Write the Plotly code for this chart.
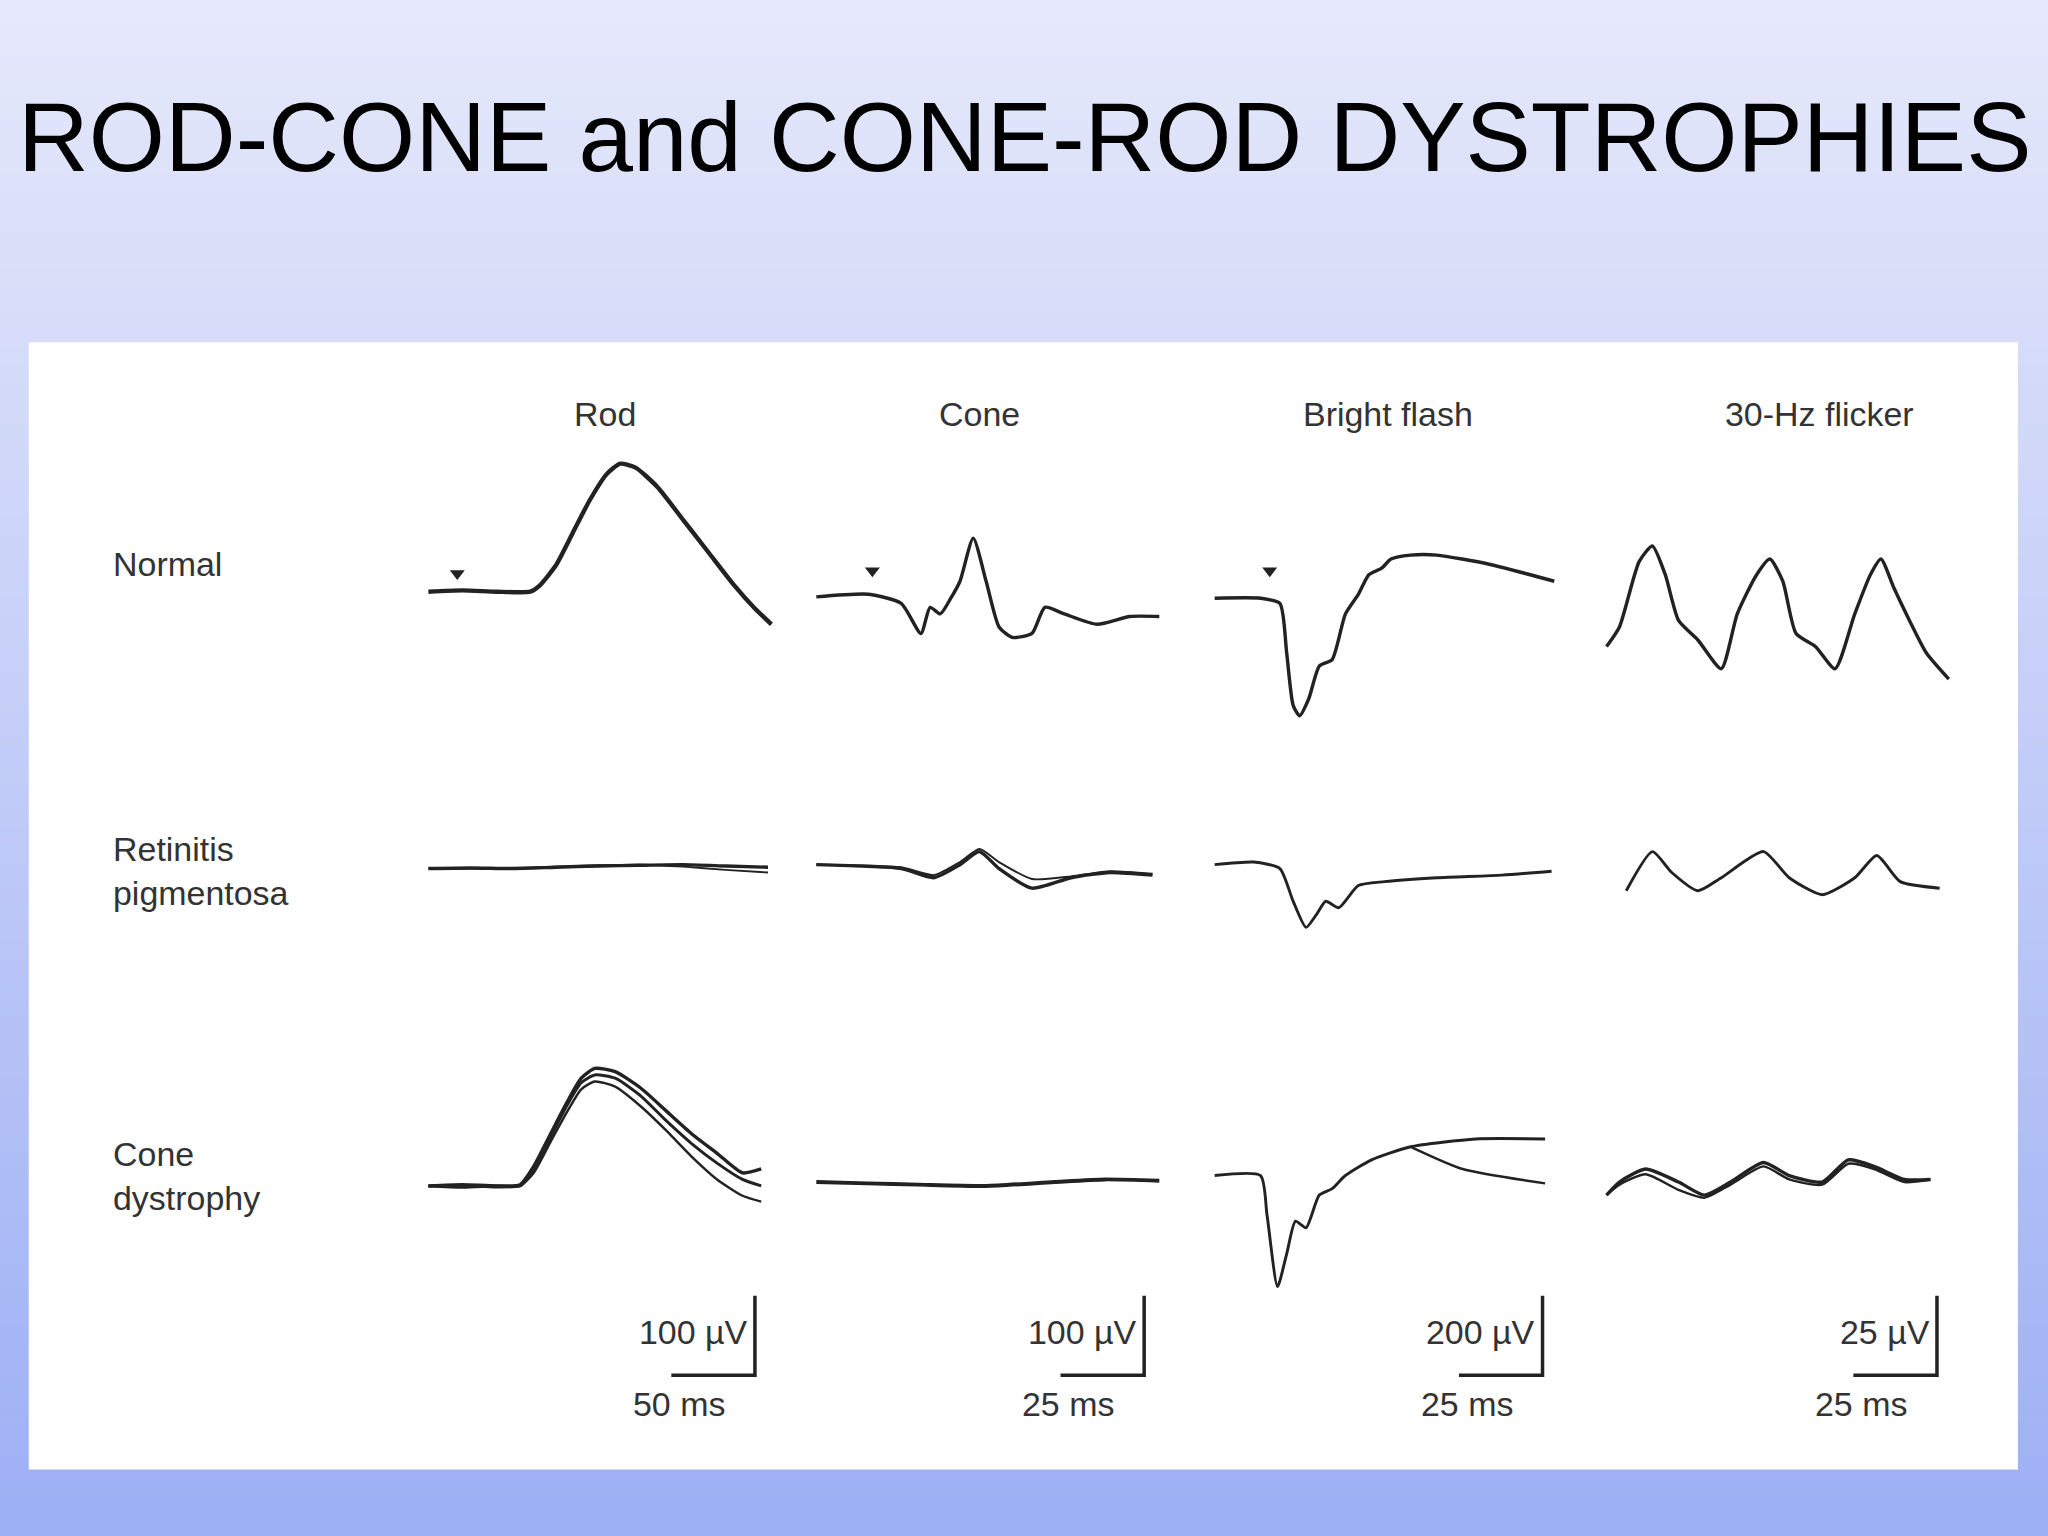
import plotly.graph_objects as go

W, H = 2048, 1536
S = W / 1568.0  # reference was read at 1568x1176

# ---- data (time in ms, amplitude in uV) ----
columns = ["Rod", "Cone", "Bright flash", "30-Hz flicker"]
rows = ["Normal", "Retinitis<br>pigmentosa", "Cone<br>dystrophy"]

rod_normal_t = [0, 20, 40, 60, 65, 75, 85, 95, 105, 113, 122, 135, 150, 165, 180, 192, 202]
rod_normal_v = [0, 2, 0, 0, 8, 40, 90, 140, 180, 196, 190, 160, 110, 60, 10, -25, -50]
rod_rp_t = [0, 25, 50, 75, 100, 125, 150, 175, 200]
rod_rp_v = [0, 1, 0, 2, 4, 5, 6, 4, 2]
rod_rp2_v = [0, 0, 1, 3, 5, 6, 3, -2, -6]
rod_cd_t = [0, 20, 40, 54, 62, 72, 82, 90, 98, 110, 125, 140, 155, 170, 185, 196]
rod_cd1_v = [0, 2, 0, 2, 30, 80, 130, 165, 180, 175, 150, 115, 80, 50, 20, 26]
rod_cd2_v = [0, -2, 0, 0, 25, 75, 125, 158, 170, 165, 138, 100, 65, 35, 10, 0]
rod_cd3_v = [0, 0, -2, 0, 20, 68, 115, 148, 160, 152, 122, 85, 45, 10, -15, -24]

cone_normal_t = [0, 15.4, 25, 30.8, 33.5, 36.5, 39.6, 42.3, 46.2, 50, 53.8, 57.7, 63.5, 67.3, 73, 82.7, 92.3, 101]
cone_normal_v = [-4, 0, -14, -60, -20, -30, -6, 20, 86, 20, -50, -66, -60, -20, -30, -46, -34, -34]
cone_rp_t = [0, 25, 34.6, 42.3, 48, 53.8, 63.5, 75, 86.5, 99]
cone_rp_v = [0, -6, -20, 0, 20, -6, -36, -20, -12, -16]
cone_rp2_v = [0, -4, -16, 4, 24, 4, -22, -18, -10, -14]
cone_cd_t = [0, 15, 30, 50, 70, 85, 101]
cone_cd_v = [0, -2, -4, -6, 0, 4, 2]

bright_normal_t = [0, 13.5, 19.2, 21.2, 23.1, 25, 27.7, 30.8, 34.6, 38.5, 42.3, 45.4, 49.2, 51.9, 57.7, 65.4, 80.8, 100]
bright_normal_v = [0, 0, -16, -168, -328, -360, -308, -208, -188, -48, 12, 72, 92, 120, 132, 132, 104, 52]
bright_rp_t = [0, 11.5, 19.2, 23.1, 26.9, 30, 32.7, 36.5, 42.3, 50, 65.4, 84.6, 99.2]
bright_rp_v = [0, 8, -12, -112, -192, -152, -112, -132, -64, -52, -40, -32, -20]
bright_cd_t = [0, 13.5, 15.4, 18.5, 21.2, 23.8, 26.9, 30.8, 34.6, 38.5, 46.2, 57.7, 76.9, 97.3]
bright_cd_v = [0, 0, -120, -340, -240, -140, -160, -60, -40, 0, 48, 88, 112, 112]
bright_cd2_t = [57.7, 73, 97.3]
bright_cd2_v = [88, 20, -24]

flick_normal_t = [0, 3.8, 9.6, 13.5, 17.3, 21.2, 26.9, 33.8, 38.5, 44.2, 48.1, 51.9, 55.8, 61.5, 67.3, 73.1, 77.7, 80.8, 84.6, 89.2, 94.2, 100.8]
flick_normal_v = [0, 7.5, 32.5, 38.5, 27.5, 10, 2.5, -8.5, 12.5, 27.5, 33.5, 25, 5, 0, -8.5, 12.5, 27.5, 33.5, 22.5, 10, -2.5, -12.5]
flick_rp_t = [5.8, 13.5, 19.2, 26.9, 33.8, 46.2, 53.8, 63.5, 73.1, 79.6, 86.5, 98.1]
flick_rp_v = [-1, 14, 6, -1, 4, 14, 4, -2.5, 4, 12.5, 2.5, 0]
flick_cd_t = [0, 3.8, 11.5, 21.2, 28.8, 36.5, 46.2, 53.8, 63.5, 71.2, 78.8, 87.7, 95.4]
flick_cd_v = [-5, 0, 5, 0, -5, 0, 7.5, 2.5, 0, 8.5, 6, 1, 1]
flick_cd2_v = [-5, -1, 3, -3, -6, -1, 6, 1, -1, 7, 5, 0, 1]

stim_t = [17, 16.5, 16.2]
stim_v = [28, 36, 84]

scale_uv = ["100 µV", "100 µV", "200 µV", "25 µV"]
scale_ms = ["50 ms", "25 ms", "25 ms", "25 ms"]

# ---- layout geometry (reference pixels) ----
col_x0 = [328, 625, 930, 1230]
col_ppm = [1.3, 2.6, 2.6, 2.6]      # px per ms
col_ppu = [0.5, 0.5, 0.25, 2.0]     # px per uV
row_base = [[453, 455, 458, 495], [665, 662, 662, 680], [908, 905, 900, 905]]

panels = [
    [[(rod_normal_t, rod_normal_v, 4.5)], [(cone_normal_t, cone_normal_v, 3.5)],
     [(bright_normal_t, bright_normal_v, 3.5)], [(flick_normal_t, flick_normal_v, 3.5)]],
    [[(rod_rp_t, rod_rp_v, 3.5), (rod_rp_t, rod_rp2_v, 2)],
     [(cone_rp_t, cone_rp_v, 3.5), (cone_rp_t, cone_rp2_v, 2)],
     [(bright_rp_t, bright_rp_v, 3)], [(flick_rp_t, flick_rp_v, 3)]],
    [[(rod_cd_t, rod_cd1_v, 3.5), (rod_cd_t, rod_cd2_v, 3), (rod_cd_t, rod_cd3_v, 2.5)],
     [(cone_cd_t, cone_cd_v, 4)],
     [(bright_cd_t, bright_cd_v, 3), (bright_cd2_t, bright_cd2_v, 2.5)],
     [(flick_cd_t, flick_cd_v, 3.5), (flick_cd_t, flick_cd2_v, 2.5)]],
]

px = lambda x: x / 1568.0
py = lambda y: 1 - y / 1176.0

fig = go.Figure()
shapes, annotations = [], []

# gradient background
nb = 80
for i in range(nb):
    f = i / (nb - 1)
    c = (int(230 + (158 - 230) * f), int(233 + (176 - 233) * f), int(251 + (245 - 251) * f))
    shapes.append(dict(type="rect", xref="paper", yref="paper", x0=0, x1=1,
                       y0=1 - i / nb, y1=1 - (i + 1) / nb - 0.002, line_width=0,
                       fillcolor="rgb(%d,%d,%d)" % c, layer="below"))
shapes.append(dict(type="rect", xref="paper", yref="paper", x0=px(22), x1=px(1545),
                   y0=py(1125), y1=py(262), line_width=0, fillcolor="white", layer="below"))

ink = "#222222"
k = 0
for r in range(3):
    for c in range(4):
        k += 1
        xa = "xaxis" if k == 1 else "xaxis%d" % k
        ya = "yaxis" if k == 1 else "yaxis%d" % k
        x0, ppm, ppu, base = col_x0[c], col_ppm[c], col_ppu[c], row_base[r][c]
        dx = (x0 - 15, x0 + 275)
        dy = (base - 135, base + 115)
        fig.layout[xa] = dict(domain=[px(dx[0]), px(dx[1])],
                              range=[(dx[0] - x0) / ppm, (dx[1] - x0) / ppm],
                              visible=False, anchor="y" if k == 1 else "y%d" % k)
        fig.layout[ya] = dict(domain=[py(dy[1]), py(dy[0])],
                              range=[-(dy[1] - base) / ppu, -(dy[0] - base) / ppu],
                              visible=False, anchor="x" if k == 1 else "x%d" % k)
        for t, v, lw in panels[r][c]:
            fig.add_trace(go.Scatter(x=t, y=v, mode="lines", xaxis="x%d" % k if k > 1 else "x",
                                     yaxis="y%d" % k if k > 1 else "y",
                                     line=dict(color=ink, width=lw * S * 0.75, shape="spline", smoothing=0.6),
                                     showlegend=False, hoverinfo="skip"))
        if r == 0 and c < 3:
            fig.add_trace(go.Scatter(x=[stim_t[c]], y=[stim_v[c]], mode="markers",
                                     xaxis="x%d" % k if k > 1 else "x", yaxis="y%d" % k if k > 1 else "y",
                                     marker=dict(symbol="triangle-down", size=13, color=ink),
                                     showlegend=False, hoverinfo="skip"))

# titles and labels
font = "Liberation Sans, Arial, sans-serif"
lab = dict(family=font, size=26 * S, color="#333")
annotations.append(dict(text="ROD-CONE and CONE-ROD DYSTROPHIES", x=px(784), y=py(105), xref="paper",
                        yref="paper", showarrow=False, xanchor="center", yanchor="middle",
                        font=dict(family=font, size=75 * S, color="black")))
for name, x in zip(columns, [463, 750, 1063, 1393]):
    annotations.append(dict(text=name, x=px(x), y=py(317), xref="paper", yref="paper", showarrow=False,
                            xanchor="center", yanchor="middle", font=lab))
for name, y in zip(rows, [432, 667, 900]):
    annotations.append(dict(text=name, x=px(85), y=py(y), xref="paper", yref="paper", showarrow=False,
                            xanchor="left", yanchor="middle", align="left", font=lab))

# scale bars
for c, xr in enumerate([578, 876, 1181, 1483]):
    shapes.append(dict(type="path", xref="paper", yref="paper",
                       path="M %f %f L %f %f L %f %f" % (px(xr), py(992), px(xr), py(1053), px(xr - 64), py(1053)),
                       line=dict(color=ink, width=3.5)))
    annotations.append(dict(text=scale_uv[c], x=px(xr - 4), y=py(1020), xref="paper", yref="paper",
                            showarrow=False, xanchor="right", yanchor="middle", font=lab))
    annotations.append(dict(text=scale_ms[c], x=px(xr - 58), y=py(1075), xref="paper", yref="paper",
                            showarrow=False, xanchor="center", yanchor="middle", font=lab))

fig.update_layout(width=W, height=H, margin=dict(l=0, r=0, t=0, b=0),
                  paper_bgcolor="white", plot_bgcolor="rgba(0,0,0,0)",
                  shapes=shapes, annotations=annotations)
fig.write_html("out.html", config={"displayModeBar": False},
               post_script="document.body.style.margin='0';")
